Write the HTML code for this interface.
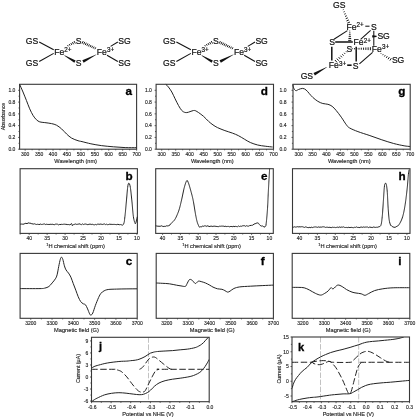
<!DOCTYPE html>
<html><head><meta charset="utf-8"><title>Figure</title>
<style>html,body{margin:0;padding:0;background:#fff;width:416px;height:418px;overflow:hidden}svg{display:block;font-family:"Liberation Sans",Arial,sans-serif}text.p{stroke:#333;stroke-width:0.14px}</style>
</head><body>
<svg width="416" height="418" viewBox="0 0 416 418">
<rect width="416" height="418" fill="#fff"/>
<text x="25.8" y="43.6" font-size="8.6" text-anchor="start" fill="#111" stroke="#111" stroke-width="0.22">GS</text>
<text x="25.8" y="66.1" font-size="8.6" text-anchor="start" fill="#111" stroke="#111" stroke-width="0.22">GS</text>
<text x="54.2" y="54.8" font-size="8.6" text-anchor="start" fill="#111" stroke="#111" stroke-width="0.22">Fe</text>
<text x="64.3" y="52.2" font-size="6.3" fill="#111" stroke="#111" stroke-width="0.2">2+</text>
<text x="75.8" y="43.6" font-size="8.6" text-anchor="start" fill="#111" stroke="#111" stroke-width="0.22">S</text>
<text x="75.8" y="66.1" font-size="8.6" text-anchor="start" fill="#111" stroke="#111" stroke-width="0.22">S</text>
<text x="96.8" y="54.8" font-size="8.6" text-anchor="start" fill="#111" stroke="#111" stroke-width="0.22">Fe</text>
<text x="106.9" y="52.2" font-size="6.3" fill="#111" stroke="#111" stroke-width="0.2">3+</text>
<text x="118.2" y="43.6" font-size="8.6" text-anchor="start" fill="#111" stroke="#111" stroke-width="0.22">SG</text>
<text x="118.2" y="66.1" font-size="8.6" text-anchor="start" fill="#111" stroke="#111" stroke-width="0.22">SG</text>
<line x1="39.2" y1="42" x2="53.7" y2="49.8" stroke="#111" stroke-width="1.05"/>
<line x1="39.2" y1="61.5" x2="53.7" y2="53.4" stroke="#111" stroke-width="1.05"/>
<line x1="110.6" y1="46.4" x2="117.8" y2="42" stroke="#111" stroke-width="1.05"/>
<line x1="107" y1="55.2" x2="117.8" y2="61.5" stroke="#111" stroke-width="1.05"/>
<path d="M68.21,46.33L67.59,45.07M69.99,45.63L69.21,44.07M71.77,44.94L70.83,43.06M73.55,44.25L72.45,42.05M75.33,43.55L74.07,41.05" stroke="#111" stroke-width="0.95"/>
<path d="M82.01,43.67L83.19,41.13M83.62,44.36L84.76,41.91M85.23,45.05L86.32,42.7M86.84,45.75L87.89,43.48M88.44,46.44L89.46,44.26M90.05,47.13L91.02,45.04M91.66,47.82L92.59,45.83M93.27,48.51L94.15,46.61M94.88,49.21L95.72,47.39" stroke="#111" stroke-width="0.95"/>
<path d="M64.4,55.67 L74.35,62.72 L75.65,60.48 L64.6,55.33Z" fill="#111"/>
<path d="M83.66,62.84 L96.29,54.78 L96.11,54.42 L82.34,60.36Z" fill="#111"/>
<text x="163" y="43.6" font-size="8.6" text-anchor="start" fill="#111" stroke="#111" stroke-width="0.22">GS</text>
<text x="163" y="66.1" font-size="8.6" text-anchor="start" fill="#111" stroke="#111" stroke-width="0.22">GS</text>
<text x="191.4" y="54.8" font-size="8.6" text-anchor="start" fill="#111" stroke="#111" stroke-width="0.22">Fe</text>
<text x="201.5" y="52.2" font-size="6.3" fill="#111" stroke="#111" stroke-width="0.2">3+</text>
<text x="213" y="43.6" font-size="8.6" text-anchor="start" fill="#111" stroke="#111" stroke-width="0.22">S</text>
<text x="213" y="66.1" font-size="8.6" text-anchor="start" fill="#111" stroke="#111" stroke-width="0.22">S</text>
<text x="234" y="54.8" font-size="8.6" text-anchor="start" fill="#111" stroke="#111" stroke-width="0.22">Fe</text>
<text x="244.1" y="52.2" font-size="6.3" fill="#111" stroke="#111" stroke-width="0.2">3+</text>
<text x="255.4" y="43.6" font-size="8.6" text-anchor="start" fill="#111" stroke="#111" stroke-width="0.22">SG</text>
<text x="255.4" y="66.1" font-size="8.6" text-anchor="start" fill="#111" stroke="#111" stroke-width="0.22">SG</text>
<line x1="176.4" y1="42" x2="190.9" y2="49.8" stroke="#111" stroke-width="1.05"/>
<line x1="176.4" y1="61.5" x2="190.9" y2="53.4" stroke="#111" stroke-width="1.05"/>
<line x1="247.8" y1="46.4" x2="255" y2="42" stroke="#111" stroke-width="1.05"/>
<line x1="244.2" y1="55.2" x2="255" y2="61.5" stroke="#111" stroke-width="1.05"/>
<path d="M205.41,46.33L204.79,45.07M207.19,45.63L206.41,44.07M208.97,44.94L208.03,43.06M210.75,44.25L209.65,42.05M212.53,43.55L211.27,41.05" stroke="#111" stroke-width="0.95"/>
<path d="M219.21,43.67L220.39,41.13M220.82,44.36L221.96,41.91M222.43,45.05L223.52,42.7M224.04,45.75L225.09,43.48M225.64,46.44L226.66,44.26M227.25,47.13L228.22,45.04M228.86,47.82L229.79,45.83M230.47,48.51L231.35,46.61M232.08,49.21L232.92,47.39" stroke="#111" stroke-width="0.95"/>
<path d="M201.6,55.67 L211.55,62.72 L212.85,60.48 L201.8,55.33Z" fill="#111"/>
<path d="M220.86,62.84 L233.49,54.78 L233.31,54.42 L219.54,60.36Z" fill="#111"/>
<text x="333" y="8.1" font-size="8.6" text-anchor="start" fill="#111" stroke="#111" stroke-width="0.22">GS</text>
<text x="346.5" y="29.6" font-size="8.6" text-anchor="start" fill="#111" stroke="#111" stroke-width="0.22">Fe</text>
<text x="356.6" y="27" font-size="6.3" fill="#111" stroke="#111" stroke-width="0.2">2+</text>
<text x="371" y="29.6" font-size="8.6" text-anchor="start" fill="#111" stroke="#111" stroke-width="0.22">S</text>
<text x="329.2" y="45.4" font-size="8.6" text-anchor="start" fill="#111" stroke="#111" stroke-width="0.22">S</text>
<text x="353.6" y="45.4" font-size="8.6" text-anchor="start" fill="#111" stroke="#111" stroke-width="0.22">Fe</text>
<text x="363.7" y="42.8" font-size="6.3" fill="#111" stroke="#111" stroke-width="0.2">2+</text>
<text x="377.4" y="38.9" font-size="8.6" text-anchor="start" fill="#111" stroke="#111" stroke-width="0.22">SG</text>
<text x="346.4" y="51.9" font-size="8.6" text-anchor="start" fill="#111" stroke="#111" stroke-width="0.22">S</text>
<text x="371.8" y="51.9" font-size="8.6" text-anchor="start" fill="#111" stroke="#111" stroke-width="0.22">Fe</text>
<text x="381.9" y="49.3" font-size="6.3" fill="#111" stroke="#111" stroke-width="0.2">3+</text>
<text x="391.9" y="63.1" font-size="8.6" text-anchor="start" fill="#111" stroke="#111" stroke-width="0.22">SG</text>
<text x="328.8" y="68.1" font-size="8.6" text-anchor="start" fill="#111" stroke="#111" stroke-width="0.22">Fe</text>
<text x="338.9" y="65.5" font-size="6.3" fill="#111" stroke="#111" stroke-width="0.2">3+</text>
<text x="352.8" y="69.3" font-size="8.6" text-anchor="start" fill="#111" stroke="#111" stroke-width="0.22">S</text>
<text x="300.7" y="79.2" font-size="8.6" text-anchor="start" fill="#111" stroke="#111" stroke-width="0.22">GS</text>
<path d="M342.83,9.75L343.57,9.45M343.56,11.99L344.64,11.54M344.29,14.23L345.71,13.64M345.02,16.46L346.78,15.74M345.75,18.7L347.85,17.83M346.48,20.94L348.92,19.93M347.21,23.18L349.99,22.02" stroke="#111" stroke-width="0.95"/>
<line x1="365.3" y1="26.2" x2="369.5" y2="26.2" stroke="#111" stroke-width="1.05"/>
<line x1="347.4" y1="30.6" x2="334" y2="39.2" stroke="#111" stroke-width="1.05"/>
<path d="M349.4,31L350.2,31M349.16,32.88L350.44,32.88M348.92,34.76L350.68,34.76M348.68,36.64L350.92,36.64M348.44,38.52L351.16,38.52M348.2,40.4L351.4,40.4" stroke="#111" stroke-width="0.95"/>
<line x1="370.6" y1="30.3" x2="360.6" y2="39.4" stroke="#111" stroke-width="1.05"/>
<line x1="373.8" y1="30.8" x2="373.8" y2="45.8" stroke="#111" stroke-width="1.05"/>
<path d="M372.2,37.5 L376.6,37 L376.6,35.8 L372.2,35.3Z" fill="#111"/>
<line x1="335.2" y1="42" x2="352.8" y2="42" stroke="#111" stroke-width="1.5"/>
<line x1="331.8" y1="46.8" x2="331.8" y2="60.6" stroke="#111" stroke-width="1.5"/>
<line x1="356.2" y1="46.8" x2="356.2" y2="61.6" stroke="#111" stroke-width="1.5"/>
<path d="M352.2,49.2L352.2,48.2M354.47,49.33L354.47,48.08M356.75,49.45L356.75,47.95M359.02,49.58L359.02,47.83M361.3,49.7L361.3,47.7M363.57,49.83L363.57,47.58M365.85,49.95L365.85,47.45M368.12,50.08L368.12,47.33M370.4,50.2L370.4,47.2" stroke="#111" stroke-width="0.95"/>
<path d="M346,51.35L346.8,52.25M344.15,52.8L345.18,53.94M342.31,54.24L343.56,55.63M340.46,55.68L341.94,57.32M338.62,57.13L340.32,59.01M336.77,58.57L338.69,60.7M334.93,60.01L337.07,62.39" stroke="#111" stroke-width="0.95"/>
<line x1="372.6" y1="52.4" x2="359.4" y2="63.8" stroke="#111" stroke-width="1.05"/>
<path d="M347.2,66 L351.6,66 L351.6,64.4 L347.2,64.4Z" fill="#111"/>
<path d="M380.79,53.84L381.21,53.16M382.61,55.19L383.23,54.17M384.42,56.54L385.26,55.18M386.24,57.89L387.28,56.19M388.05,59.24L389.31,57.2M389.87,60.59L391.33,58.21" stroke="#111" stroke-width="0.95"/>
<path d="M314.93,75.51 L326.9,67.37 L326.7,67.03 L313.47,72.89Z" fill="#111"/>
<rect x="19.6" y="84.3" width="117" height="64.9" fill="none" stroke="#383838" stroke-width="1.1"/>
<path d="M25.17,149.2v1.5M39.1,149.2v1.5M53.03,149.2v1.5M66.96,149.2v1.5M80.89,149.2v1.5M94.81,149.2v1.5M108.74,149.2v1.5M122.67,149.2v1.5M136.6,149.2v1.5M32.14,149.2v1.1M46.06,149.2v1.1M59.99,149.2v1.1M73.92,149.2v1.1M87.85,149.2v1.1M101.78,149.2v1.1M115.71,149.2v1.1M129.64,149.2v1.1" stroke="#383838" stroke-width="0.8" fill="none"/>
<text class="p" x="25.17" y="155.9" font-size="5.0" text-anchor="middle" fill="#111">300</text>
<text class="p" x="39.1" y="155.9" font-size="5.0" text-anchor="middle" fill="#111">350</text>
<text class="p" x="53.03" y="155.9" font-size="5.0" text-anchor="middle" fill="#111">400</text>
<text class="p" x="66.96" y="155.9" font-size="5.0" text-anchor="middle" fill="#111">450</text>
<text class="p" x="80.89" y="155.9" font-size="5.0" text-anchor="middle" fill="#111">500</text>
<text class="p" x="94.81" y="155.9" font-size="5.0" text-anchor="middle" fill="#111">550</text>
<text class="p" x="108.74" y="155.9" font-size="5.0" text-anchor="middle" fill="#111">600</text>
<text class="p" x="122.67" y="155.9" font-size="5.0" text-anchor="middle" fill="#111">650</text>
<text class="p" x="136.6" y="155.9" font-size="5.0" text-anchor="middle" fill="#111">700</text>
<path d="M19.6,149.2h-1.5M19.6,137.42h-1.5M19.6,125.64h-1.5M19.6,113.86h-1.5M19.6,102.08h-1.5M19.6,90.3h-1.5M19.6,143.31h-1.1M19.6,131.53h-1.1M19.6,119.75h-1.1M19.6,107.97h-1.1M19.6,96.19h-1.1" stroke="#383838" stroke-width="0.8" fill="none"/>
<text class="p" x="15.4" y="151" font-size="5.0" text-anchor="end" fill="#111">0.0</text>
<text class="p" x="15.4" y="139.22" font-size="5.0" text-anchor="end" fill="#111">0.2</text>
<text class="p" x="15.4" y="127.44" font-size="5.0" text-anchor="end" fill="#111">0.4</text>
<text class="p" x="15.4" y="115.66" font-size="5.0" text-anchor="end" fill="#111">0.6</text>
<text class="p" x="15.4" y="103.88" font-size="5.0" text-anchor="end" fill="#111">0.8</text>
<text class="p" x="15.4" y="92.1" font-size="5.0" text-anchor="end" fill="#111">1.0</text>
<text x="125.6" y="94.7" font-size="11.7" font-weight="bold" fill="#000" stroke="#000" stroke-width="0.3">a</text>
<text class="p" x="0" y="0" font-size="5.15" text-anchor="middle" fill="#111" transform="translate(4.6,116.5) rotate(-90)">Absorbance</text>
<rect x="156.1" y="84.3" width="117.4" height="64.9" fill="none" stroke="#383838" stroke-width="1.1"/>
<path d="M161.69,149.2v1.5M175.67,149.2v1.5M189.64,149.2v1.5M203.62,149.2v1.5M217.6,149.2v1.5M231.57,149.2v1.5M245.55,149.2v1.5M259.52,149.2v1.5M273.5,149.2v1.5M168.68,149.2v1.1M182.65,149.2v1.1M196.63,149.2v1.1M210.61,149.2v1.1M224.58,149.2v1.1M238.56,149.2v1.1M252.54,149.2v1.1M266.51,149.2v1.1" stroke="#383838" stroke-width="0.8" fill="none"/>
<text class="p" x="161.69" y="155.9" font-size="5.0" text-anchor="middle" fill="#111">300</text>
<text class="p" x="175.67" y="155.9" font-size="5.0" text-anchor="middle" fill="#111">350</text>
<text class="p" x="189.64" y="155.9" font-size="5.0" text-anchor="middle" fill="#111">400</text>
<text class="p" x="203.62" y="155.9" font-size="5.0" text-anchor="middle" fill="#111">450</text>
<text class="p" x="217.6" y="155.9" font-size="5.0" text-anchor="middle" fill="#111">500</text>
<text class="p" x="231.57" y="155.9" font-size="5.0" text-anchor="middle" fill="#111">550</text>
<text class="p" x="245.55" y="155.9" font-size="5.0" text-anchor="middle" fill="#111">600</text>
<text class="p" x="259.52" y="155.9" font-size="5.0" text-anchor="middle" fill="#111">650</text>
<text class="p" x="273.5" y="155.9" font-size="5.0" text-anchor="middle" fill="#111">700</text>
<path d="M156.1,149.2h-1.5M156.1,137.42h-1.5M156.1,125.64h-1.5M156.1,113.86h-1.5M156.1,102.08h-1.5M156.1,90.3h-1.5M156.1,143.31h-1.1M156.1,131.53h-1.1M156.1,119.75h-1.1M156.1,107.97h-1.1M156.1,96.19h-1.1" stroke="#383838" stroke-width="0.8" fill="none"/>
<text class="p" x="151.9" y="151" font-size="5.0" text-anchor="end" fill="#111">0.0</text>
<text class="p" x="151.9" y="139.22" font-size="5.0" text-anchor="end" fill="#111">0.2</text>
<text class="p" x="151.9" y="127.44" font-size="5.0" text-anchor="end" fill="#111">0.4</text>
<text class="p" x="151.9" y="115.66" font-size="5.0" text-anchor="end" fill="#111">0.6</text>
<text class="p" x="151.9" y="103.88" font-size="5.0" text-anchor="end" fill="#111">0.8</text>
<text class="p" x="151.9" y="92.1" font-size="5.0" text-anchor="end" fill="#111">1.0</text>
<text x="260.8" y="94.7" font-size="11.7" font-weight="bold" fill="#000" stroke="#000" stroke-width="0.3">d</text>
<rect x="293" y="84.3" width="117.2" height="64.9" fill="none" stroke="#383838" stroke-width="1.1"/>
<path d="M298.58,149.2v1.5M312.53,149.2v1.5M326.49,149.2v1.5M340.44,149.2v1.5M354.39,149.2v1.5M368.34,149.2v1.5M382.3,149.2v1.5M396.25,149.2v1.5M410.2,149.2v1.5M305.56,149.2v1.1M319.51,149.2v1.1M333.46,149.2v1.1M347.41,149.2v1.1M361.37,149.2v1.1M375.32,149.2v1.1M389.27,149.2v1.1M403.22,149.2v1.1" stroke="#383838" stroke-width="0.8" fill="none"/>
<text class="p" x="298.58" y="155.9" font-size="5.0" text-anchor="middle" fill="#111">300</text>
<text class="p" x="312.53" y="155.9" font-size="5.0" text-anchor="middle" fill="#111">350</text>
<text class="p" x="326.49" y="155.9" font-size="5.0" text-anchor="middle" fill="#111">400</text>
<text class="p" x="340.44" y="155.9" font-size="5.0" text-anchor="middle" fill="#111">450</text>
<text class="p" x="354.39" y="155.9" font-size="5.0" text-anchor="middle" fill="#111">500</text>
<text class="p" x="368.34" y="155.9" font-size="5.0" text-anchor="middle" fill="#111">550</text>
<text class="p" x="382.3" y="155.9" font-size="5.0" text-anchor="middle" fill="#111">600</text>
<text class="p" x="396.25" y="155.9" font-size="5.0" text-anchor="middle" fill="#111">650</text>
<text class="p" x="410.2" y="155.9" font-size="5.0" text-anchor="middle" fill="#111">700</text>
<path d="M293,149.2h-1.5M293,137.42h-1.5M293,125.64h-1.5M293,113.86h-1.5M293,102.08h-1.5M293,90.3h-1.5M293,143.31h-1.1M293,131.53h-1.1M293,119.75h-1.1M293,107.97h-1.1M293,96.19h-1.1" stroke="#383838" stroke-width="0.8" fill="none"/>
<text class="p" x="286.5" y="151" font-size="5.0" text-anchor="end" fill="#111">0.0</text>
<text class="p" x="286.5" y="139.22" font-size="5.0" text-anchor="end" fill="#111">0.2</text>
<text class="p" x="286.5" y="127.44" font-size="5.0" text-anchor="end" fill="#111">0.4</text>
<text class="p" x="286.5" y="115.66" font-size="5.0" text-anchor="end" fill="#111">0.6</text>
<text class="p" x="286.5" y="103.88" font-size="5.0" text-anchor="end" fill="#111">0.8</text>
<text class="p" x="286.5" y="92.1" font-size="5.0" text-anchor="end" fill="#111">1.0</text>
<text x="398.3" y="94.7" font-size="11.7" font-weight="bold" fill="#000" stroke="#000" stroke-width="0.3">g</text>
<text class="p" x="75.65" y="163" font-size="5.65" text-anchor="middle" fill="#111">Wavelength (nm)</text>
<text class="p" x="212.25" y="163" font-size="5.65" text-anchor="middle" fill="#111">Wavelength (nm)</text>
<text class="p" x="349.25" y="163" font-size="5.65" text-anchor="middle" fill="#111">Wavelength (nm)</text>
<path d="M19.7,84.5 C20.25,85.75 21.88,89.35 23,92 C24.12,94.65 25.28,97.6 26.4,100.4 C27.52,103.2 28.58,106.28 29.7,108.8 C30.82,111.32 31.98,113.68 33.1,115.5 C34.22,117.32 35.28,118.63 36.4,119.7 C37.52,120.77 38.4,121.42 39.8,121.9 C41.2,122.38 42.85,122.32 44.8,122.6 C46.75,122.88 49.55,123.17 51.5,123.6 C53.45,124.03 54.82,124.32 56.5,125.2 C58.18,126.08 59.92,127.43 61.6,128.9 C63.28,130.37 64.93,132.47 66.6,134 C68.27,135.53 69.7,136.98 71.6,138.1 C73.5,139.22 76.27,140.12 78,140.7 C79.73,141.28 79.85,141.08 82,141.6 C84.15,142.12 87.68,143.13 90.9,143.8 C94.12,144.47 97.57,145.1 101.3,145.6 C105.03,146.1 109.32,146.47 113.3,146.8 C117.28,147.13 121.35,147.45 125.2,147.6 C129.05,147.75 134.53,147.68 136.4,147.7" stroke="#222" stroke-width="1.0" fill="none" stroke-linejoin="round"/>
<path d="M165.9,84.3 C166.32,84.75 167.42,85.72 168.4,87 C169.38,88.28 170.68,90.03 171.8,92 C172.92,93.97 173.98,96.55 175.1,98.8 C176.22,101.05 177.38,103.55 178.5,105.5 C179.62,107.45 180.68,109.33 181.8,110.5 C182.92,111.67 184.08,112.22 185.2,112.5 C186.32,112.78 187.12,112.53 188.5,112.2 C189.88,111.87 192.1,110.62 193.5,110.5 C194.9,110.38 195.22,110.52 196.9,111.5 C198.58,112.48 201.65,114.75 203.6,116.4 C205.55,118.05 207.03,119.98 208.6,121.4 C210.17,122.82 211.52,123.87 213,124.9 C214.48,125.93 215.52,126.65 217.5,127.6 C219.48,128.55 222.42,129.68 224.9,130.6 C227.38,131.52 230.17,132.27 232.4,133.1 C234.63,133.93 236.32,134.6 238.3,135.6 C240.28,136.6 242.3,137.95 244.3,139.1 C246.3,140.25 248.07,141.52 250.3,142.5 C252.53,143.48 255.22,144.38 257.7,145 C260.18,145.62 262.72,145.87 265.2,146.2 C267.68,146.53 271.37,146.87 272.6,147" stroke="#222" stroke-width="1.0" fill="none" stroke-linejoin="round"/>
<path d="M292.7,84.5 C292.92,85.2 293.45,87.67 294,88.7 C294.55,89.73 295.25,90.57 296,90.7 C296.75,90.83 297.38,89.88 298.5,89.5 C299.62,89.12 301.43,88.32 302.7,88.4 C303.97,88.48 304.98,89.12 306.1,90 C307.22,90.88 308.28,92.47 309.4,93.7 C310.52,94.93 311.4,96.13 312.8,97.4 C314.2,98.67 316.13,100.28 317.8,101.3 C319.47,102.32 321.12,103 322.8,103.5 C324.48,104 326.35,103.83 327.9,104.3 C329.45,104.77 330.72,105.27 332.1,106.3 C333.48,107.33 334.67,108.68 336.2,110.5 C337.73,112.32 339.62,114.83 341.3,117.2 C342.98,119.57 344.93,122.92 346.3,124.7 C347.67,126.48 347.57,126.75 349.5,127.9 C351.43,129.05 354.5,130.32 357.9,131.6 C361.3,132.88 365.92,134.23 369.9,135.6 C373.88,136.97 377.83,138.48 381.8,139.8 C385.77,141.12 389.98,142.5 393.7,143.5 C397.42,144.5 401.37,145.3 404.1,145.8 C406.83,146.3 409.1,146.38 410.1,146.5" stroke="#222" stroke-width="1.0" fill="none" stroke-linejoin="round"/>
<rect x="20.1" y="168.7" width="117.3" height="64.7" fill="none" stroke="#383838" stroke-width="1.1"/>
<path d="M29.2,233.4v1.5M47.15,233.4v1.5M65.1,233.4v1.5M83.05,233.4v1.5M101,233.4v1.5M118.95,233.4v1.5M136.9,233.4v1.5M20.23,233.4v1.1M38.17,233.4v1.1M56.12,233.4v1.1M74.08,233.4v1.1M92.02,233.4v1.1M109.97,233.4v1.1M127.92,233.4v1.1" stroke="#383838" stroke-width="0.8" fill="none"/>
<text class="p" x="29.2" y="240.3" font-size="5.0" text-anchor="middle" fill="#111">40</text>
<text class="p" x="47.15" y="240.3" font-size="5.0" text-anchor="middle" fill="#111">35</text>
<text class="p" x="65.1" y="240.3" font-size="5.0" text-anchor="middle" fill="#111">30</text>
<text class="p" x="83.05" y="240.3" font-size="5.0" text-anchor="middle" fill="#111">25</text>
<text class="p" x="101" y="240.3" font-size="5.0" text-anchor="middle" fill="#111">20</text>
<text class="p" x="118.95" y="240.3" font-size="5.0" text-anchor="middle" fill="#111">15</text>
<text class="p" x="136.9" y="240.3" font-size="5.0" text-anchor="middle" fill="#111">10</text>
<text x="125.6" y="180.1" font-size="11.7" font-weight="bold" fill="#000" stroke="#000" stroke-width="0.3">b</text>
<text class="p" x="75.55" y="247.6" font-size="5.7" text-anchor="middle" fill="#111"><tspan font-size="4" dy="-1.5">1</tspan><tspan dy="1.5">H chemical shift (ppm)</tspan></text>
<rect x="155.7" y="168.7" width="117.6" height="64.7" fill="none" stroke="#383838" stroke-width="1.1"/>
<path d="M162.6,233.4v1.5M180.4,233.4v1.5M198.2,233.4v1.5M216,233.4v1.5M233.8,233.4v1.5M251.6,233.4v1.5M269.4,233.4v1.5M171.5,233.4v1.1M189.3,233.4v1.1M207.1,233.4v1.1M224.9,233.4v1.1M242.7,233.4v1.1M260.5,233.4v1.1" stroke="#383838" stroke-width="0.8" fill="none"/>
<text class="p" x="162.6" y="240.3" font-size="5.0" text-anchor="middle" fill="#111">40</text>
<text class="p" x="180.4" y="240.3" font-size="5.0" text-anchor="middle" fill="#111">35</text>
<text class="p" x="198.2" y="240.3" font-size="5.0" text-anchor="middle" fill="#111">30</text>
<text class="p" x="216" y="240.3" font-size="5.0" text-anchor="middle" fill="#111">25</text>
<text class="p" x="233.8" y="240.3" font-size="5.0" text-anchor="middle" fill="#111">20</text>
<text class="p" x="251.6" y="240.3" font-size="5.0" text-anchor="middle" fill="#111">15</text>
<text class="p" x="269.4" y="240.3" font-size="5.0" text-anchor="middle" fill="#111">10</text>
<text x="260.9" y="180.1" font-size="11.7" font-weight="bold" fill="#000" stroke="#000" stroke-width="0.3">e</text>
<text class="p" x="211.55" y="247.6" font-size="5.7" text-anchor="middle" fill="#111"><tspan font-size="4" dy="-1.5">1</tspan><tspan dy="1.5">H chemical shift (ppm)</tspan></text>
<rect x="292.5" y="168.7" width="117.5" height="64.7" fill="none" stroke="#383838" stroke-width="1.1"/>
<path d="M299.5,233.4v1.5M317.4,233.4v1.5M335.3,233.4v1.5M353.2,233.4v1.5M371.1,233.4v1.5M389,233.4v1.5M406.9,233.4v1.5M308.45,233.4v1.1M326.35,233.4v1.1M344.25,233.4v1.1M362.15,233.4v1.1M380.05,233.4v1.1M397.95,233.4v1.1" stroke="#383838" stroke-width="0.8" fill="none"/>
<text class="p" x="299.5" y="240.3" font-size="5.0" text-anchor="middle" fill="#111">40</text>
<text class="p" x="317.4" y="240.3" font-size="5.0" text-anchor="middle" fill="#111">35</text>
<text class="p" x="335.3" y="240.3" font-size="5.0" text-anchor="middle" fill="#111">30</text>
<text class="p" x="353.2" y="240.3" font-size="5.0" text-anchor="middle" fill="#111">25</text>
<text class="p" x="371.1" y="240.3" font-size="5.0" text-anchor="middle" fill="#111">20</text>
<text class="p" x="389" y="240.3" font-size="5.0" text-anchor="middle" fill="#111">15</text>
<text class="p" x="406.9" y="240.3" font-size="5.0" text-anchor="middle" fill="#111">10</text>
<text x="398.5" y="180.1" font-size="11.7" font-weight="bold" fill="#000" stroke="#000" stroke-width="0.3">h</text>
<text class="p" x="347.55" y="247.6" font-size="5.7" text-anchor="middle" fill="#111"><tspan font-size="4" dy="-1.5">1</tspan><tspan dy="1.5">H chemical shift (ppm)</tspan></text>
<path d="M20.1,223.99 L20.75,224.22 L21.68,224.06 L22.79,224.19 L24,224.1 L24.9,223.51 L25.92,223.27 L27,223.7 L28.07,223.03 L29.06,222.85 L29.9,223.4 L31,223.15 L31.78,223.84 L33,223.88 L33.77,224.1 L34.63,223.79 L35.57,224.24 L36.59,224.48 L37.67,224.26 L38.81,224.47 L40,224.44 L40.8,223.96 L41.64,224.51 L42.51,224.37 L43.42,224.12 L44.34,223.89 L45.29,224.54 L46.24,224.21 L47.19,224.39 L48.14,224.5 L49.08,224.37 L50,224.54 L50.92,224.13 L51.87,224.48 L52.84,224.22 L53.8,224.65 L54.77,224.65 L55.73,224.06 L56.66,224.13 L57.56,224.22 L58.43,224.85 L59.24,224.44 L60,224.6 L61.25,224.32 L62.37,224.43 L63.38,224.26 L64.3,224.17 L65.16,224.3 L66,224.27 L67.2,224.57 L68.28,224.49 L69.22,224.77 L70,224.69 L70.95,224.18 L71.5,223.54 L71.92,224.14 L72.3,225.69 L72.54,225.35 L73.5,224.62 L74.12,224.29 L74.87,224.36 L75.73,223.94 L76.69,224.43 L77.73,224.24 L78.84,224.02 L80,223.85 L80.78,224.49 L81.61,224.61 L82.47,223.91 L83.38,224.5 L84.31,224.21 L85.26,224.03 L86.22,224.16 L87.18,224.57 L88.13,224.67 L89.08,224.02 L90,224.49 L90.91,224.04 L91.82,224.59 L92.73,224.28 L93.64,224.72 L94.55,224.8 L95.45,224.42 L96.36,224.81 L97.27,224.26 L98.18,224.07 L99.09,224.48 L100,224.03 L100.92,224.15 L101.85,224.31 L102.78,224.46 L103.72,224.09 L104.66,223.98 L105.59,224.63 L106.51,224.18 L107.42,224.68 L108.3,224.62 L109.17,224.2 L110,224.27 L111.11,224.32 L112.2,224.43 L113.27,224.4 L114.29,224.39 L115.29,224.46 L116.24,224.73 L117.14,224.4 L118,224.34 L119.29,224.71 L120.49,224.57 L121.58,224.8 L122.52,225.28 L123.3,224.42 L123.68,223.9 L123.96,222.81 L124.18,222.36 L124.34,221.53 L124.47,220.5 L124.59,219.36 L124.73,218.09 L124.9,216.7 L124.99,215.99 L125.08,215.22 L125.17,214.4 L125.26,213.54 L125.35,212.64 L125.44,211.71 L125.53,210.76 L125.62,209.79 L125.71,208.8 L125.8,207.8 L125.89,206.81 L125.98,205.81 L126.06,204.83 L126.15,203.86 L126.23,202.91 L126.32,201.99 L126.4,201.1 L126.49,200.1 L126.58,199.08 L126.68,198.04 L126.77,196.99 L126.86,195.94 L126.94,194.9 L127.03,193.87 L127.12,192.87 L127.2,191.9 L127.29,190.96 L127.37,190.07 L127.46,189.23 L127.54,188.45 L127.62,187.74 L127.7,187.1 L127.98,185.23 L128.24,184.03 L128.5,183.39 L128.8,183.2 L129.14,183.39 L129.52,184.03 L129.91,185.23 L130.3,187.1 L130.4,187.74 L130.51,188.45 L130.62,189.23 L130.72,190.07 L130.83,190.96 L130.94,191.9 L131.05,192.87 L131.15,193.87 L131.26,194.9 L131.37,195.94 L131.48,196.99 L131.58,198.04 L131.69,199.08 L131.8,200.1 L131.9,201.1 L131.99,201.99 L132.08,202.91 L132.17,203.87 L132.25,204.84 L132.34,205.83 L132.42,206.83 L132.5,207.84 L132.59,208.84 L132.67,209.83 L132.76,210.81 L132.85,211.77 L132.93,212.69 L133.02,213.59 L133.11,214.44 L133.21,215.25 L133.3,216 L133.4,216.7 L133.62,218.05 L133.87,219.28 L134.12,220.38 L134.38,221.34 L134.64,222.23 L134.88,222.45 L135.1,223.44 L135.3,223.81 L135.7,223.23 L136,222.48 L136.3,221 L136.57,219.94 L136.86,218.68 L137.12,217.51 L137.3,216.7" stroke="#222" stroke-width="1.0" fill="none" stroke-linejoin="round"/>
<path d="M155.7,225.8 L156.28,225.94 L157.07,226.05 L158.01,226.25 L159.04,226.17 L160.12,226.4 L161.2,225.76 L162.21,226.15 L163.1,226.55 L164.19,226.32 L165.24,226.5 L166.26,225.82 L167.2,226.02 L168.05,225.7 L168.8,225.74 L169.84,225.13 L170.53,223.85 L171.3,223.3 L171.91,222.72 L172.56,222.12 L173.24,221.47 L173.89,220.77 L174.5,220 L174.96,219.31 L175.39,218.57 L175.8,217.8 L176.2,216.98 L176.6,216.12 L177,215.2 L177.35,214.39 L177.69,213.56 L178.04,212.71 L178.38,211.81 L178.72,210.85 L179.06,209.82 L179.4,208.7 L179.62,207.94 L179.84,207.14 L180.05,206.31 L180.27,205.45 L180.49,204.56 L180.7,203.65 L180.92,202.72 L181.14,201.78 L181.36,200.82 L181.58,199.86 L181.8,198.9 L182.01,197.99 L182.21,197.04 L182.42,196.05 L182.63,195.05 L182.84,194.03 L183.05,193.01 L183.26,192 L183.47,191.02 L183.68,190.06 L183.89,189.15 L184.09,188.29 L184.3,187.5 L184.61,186.37 L184.93,185.27 L185.24,184.23 L185.56,183.27 L185.86,182.41 L186.16,181.68 L186.44,181.1 L186.7,180.7 L187.49,180.71 L188.3,182.6 L188.54,183.23 L188.8,183.97 L189.07,184.81 L189.35,185.73 L189.65,186.71 L189.94,187.72 L190.23,188.76 L190.52,189.79 L190.8,190.8 L191.02,191.61 L191.24,192.4 L191.46,193.2 L191.68,194.01 L191.89,194.83 L192.11,195.67 L192.32,196.54 L192.54,197.45 L192.76,198.41 L192.98,199.42 L193.2,200.5 L193.35,201.29 L193.51,202.14 L193.67,203.04 L193.83,203.98 L193.99,204.95 L194.16,205.94 L194.32,206.94 L194.48,207.95 L194.64,208.96 L194.8,209.95 L194.96,210.93 L195.11,211.87 L195.27,212.78 L195.42,213.64 L195.56,214.45 L195.7,215.2 L195.94,216.41 L196.16,217.53 L196.37,218.56 L196.57,219.5 L196.77,220.37 L196.97,221.18 L197.18,221.93 L197.38,222.63 L197.6,223.3 L198.06,224.39 L198.51,225.47 L199.03,226.74 L199.7,227.11 L200.42,226.74 L201.18,227.01 L202.23,226.14 L203.8,226.29 L204.49,225.88 L205.27,225.76 L206.13,226.44 L207.05,225.9 L208.02,225.91 L209.03,226.52 L210.06,226.44 L211.09,225.98 L212.12,226.53 L213.12,226.21 L214.09,226.33 L215,225.96 L215.95,226.57 L216.89,226.39 L217.81,226.64 L218.72,226.61 L219.63,226.17 L220.52,226.26 L221.41,226.13 L222.31,226.15 L223.2,226.11 L224.1,226.32 L225,226.58 L225.89,226.12 L226.76,226.67 L227.6,226.41 L228.44,226.4 L229.29,226.82 L230.14,226.56 L231.02,226.42 L231.94,226.55 L232.9,226.72 L233.92,226.18 L235,226.88 L235.81,226.09 L236.68,226.64 L237.61,226.68 L238.59,225.97 L239.6,226.54 L240.63,226.15 L241.68,226.27 L242.72,225.76 L243.75,225.73 L244.75,225.78 L245.72,226.34 L246.64,225.68 L247.5,226.07 L248.28,226.15 L248.99,226.11 L249.6,225.58 L251.54,225.35 L252.23,225.25 L252.9,225.12 L254.02,224.06 L255.13,223.77 L256.1,223.3 L257.17,222.91 L258.1,223 L258.78,223.59 L259.47,224.66 L260.2,225.44 L261.38,226.08 L262.6,225.83 L263.93,227.19 L265.1,226.57 L265.47,226.43 L265.73,226.14 L265.94,225.41 L266.2,223.3 L266.28,222.69 L266.36,222.01 L266.44,221.27 L266.52,220.46 L266.61,219.61 L266.69,218.71 L266.78,217.77 L266.87,216.79 L266.96,215.8 L267.04,214.78 L267.12,213.76 L267.21,212.73 L267.28,211.7 L267.36,210.68 L267.43,209.68 L267.5,208.7 L267.56,207.83 L267.61,206.95 L267.66,206.06 L267.71,205.16 L267.76,204.25 L267.8,203.33 L267.85,202.41 L267.89,201.48 L267.93,200.55 L267.97,199.62 L268.01,198.69 L268.05,197.77 L268.09,196.85 L268.13,195.94 L268.17,195.04 L268.21,194.15 L268.26,193.27 L268.3,192.4 L268.35,191.43 L268.4,190.46 L268.45,189.48 L268.51,188.5 L268.56,187.53 L268.61,186.56 L268.67,185.6 L268.72,184.65 L268.77,183.72 L268.82,182.8 L268.87,181.9 L268.92,181.02 L268.97,180.17 L269.01,179.35 L269.06,178.56 L269.1,177.8 L269.16,176.63 L269.23,175.48 L269.29,174.38 L269.35,173.33 L269.4,172.34 L269.45,171.42 L269.5,170.59 L269.54,169.85 L269.57,169.22 L269.6,168.7" stroke="#222" stroke-width="1.0" fill="none" stroke-linejoin="round"/>
<path d="M292.5,227.06 L293.06,226.9 L293.79,227.27 L294.65,226.77 L295.62,227.1 L296.67,226.93 L297.77,226.66 L298.89,227 L300,226.63 L300.82,226.96 L301.67,226.7 L302.55,226.76 L303.45,227.07 L304.38,227.44 L305.31,226.93 L306.26,227.06 L307.21,227.43 L308.15,227.72 L309.08,227.45 L310,227.32 L310.91,227.78 L311.82,227.02 L312.73,227.64 L313.64,227.15 L314.55,226.99 L315.45,226.93 L316.36,227.04 L317.27,227.41 L318.18,226.87 L319.09,227.17 L320,227.21 L320.91,227 L321.82,227.16 L322.73,226.8 L323.64,226.83 L324.55,226.99 L325.45,227.41 L326.36,227.24 L327.27,227.19 L328.18,227.44 L329.09,227.35 L330,227.24 L330.91,227.63 L331.82,227.55 L332.73,227.17 L333.64,227.41 L334.55,227.34 L335.45,227.59 L336.36,227.45 L337.27,227.07 L338.18,227.6 L339.09,226.9 L340,227.13 L340.91,227.41 L341.82,226.94 L342.73,227.23 L343.64,226.89 L344.55,227.42 L345.45,227.53 L346.36,227.4 L347.27,227.66 L348.18,227.23 L349.09,227.55 L350,227.48 L350.91,227.46 L351.82,227.35 L352.73,227.64 L353.64,227.7 L354.55,227.29 L355.45,227.42 L356.36,226.91 L357.27,227.4 L358.18,227.34 L359.09,227.6 L360,227.46 L360.92,227.03 L361.87,227.13 L362.82,227.38 L363.78,226.89 L364.74,227.27 L365.69,227.06 L366.62,227.05 L367.53,227.03 L368.39,227.61 L369.22,227.11 L370,227.2 L371.13,227.29 L372.18,227.65 L373.16,226.98 L374.07,227.22 L374.92,227.23 L375.73,227.41 L376.5,227.26 L377.75,227.23 L378.86,226.75 L379.81,226.59 L380.6,225.69 L380.86,225.56 L381.09,224.63 L381.28,223.93 L381.44,223.15 L381.58,222.29 L381.71,221.36 L381.83,220.36 L381.95,219.28 L382.07,218.12 L382.2,216.9 L382.28,216.17 L382.35,215.4 L382.43,214.57 L382.5,213.71 L382.57,212.82 L382.64,211.9 L382.71,210.95 L382.78,209.99 L382.84,209.01 L382.91,208.03 L382.97,207.05 L383.04,206.07 L383.1,205.1 L383.16,204.15 L383.22,203.22 L383.28,202.31 L383.34,201.44 L383.4,200.6 L383.47,199.54 L383.55,198.48 L383.61,197.42 L383.68,196.36 L383.75,195.31 L383.81,194.28 L383.87,193.28 L383.94,192.31 L384,191.38 L384.06,190.49 L384.12,189.65 L384.18,188.87 L384.24,188.15 L384.3,187.5 L384.5,185.75 L384.68,184.63 L384.87,183.95 L385.1,183.5 L385.69,183.14 L386.3,184.3 L386.42,184.83 L386.54,185.45 L386.65,186.16 L386.76,186.95 L386.87,187.84 L386.98,188.82 L387.09,189.91 L387.19,191.1 L387.3,192.4 L387.35,193.11 L387.4,193.87 L387.45,194.68 L387.5,195.53 L387.55,196.43 L387.59,197.35 L387.64,198.3 L387.68,199.26 L387.73,200.24 L387.78,201.23 L387.83,202.22 L387.87,203.21 L387.92,204.18 L387.98,205.14 L388.03,206.08 L388.08,206.99 L388.14,207.86 L388.2,208.7 L388.28,209.75 L388.35,210.8 L388.43,211.85 L388.51,212.89 L388.59,213.92 L388.67,214.93 L388.75,215.91 L388.84,216.87 L388.93,217.79 L389.03,218.67 L389.13,219.51 L389.25,220.3 L389.37,221.03 L389.5,221.7 L389.83,223.04 L390.19,224.1 L390.57,225.3 L391,225.32 L391.48,225.88 L392,226.39 L392.93,226.88 L394.01,227.27 L395.1,227.3 L396.1,226.81 L396.96,226.23 L397.75,226.02 L398.51,225.19 L399.3,224.2 L399.71,223.53 L400.14,222.79 L400.57,221.97 L401,221.09 L401.42,220.14 L401.84,219.12 L402.23,218.04 L402.6,216.9 L402.83,216.11 L403.06,215.29 L403.27,214.45 L403.48,213.59 L403.68,212.69 L403.88,211.76 L404.07,210.8 L404.26,209.81 L404.44,208.79 L404.63,207.73 L404.81,206.63 L405,205.5 L405.13,204.71 L405.25,203.9 L405.38,203.05 L405.5,202.18 L405.63,201.28 L405.75,200.37 L405.88,199.44 L406,198.5 L406.12,197.56 L406.24,196.6 L406.36,195.65 L406.47,194.7 L406.58,193.75 L406.69,192.81 L406.8,191.88 L406.9,190.97 L407,190.07 L407.1,189.2 L407.2,188.22 L407.3,187.22 L407.4,186.2 L407.5,185.18 L407.59,184.16 L407.67,183.14 L407.76,182.13 L407.84,181.14 L407.92,180.17 L407.99,179.22 L408.06,178.32 L408.14,177.45 L408.2,176.63 L408.27,175.86 L408.34,175.15 L408.4,174.5 L408.59,172.81 L408.76,171.6 L408.9,170.74 L409.01,170.11 L409.1,169.6" stroke="#222" stroke-width="1.0" fill="none" stroke-linejoin="round"/>
<rect x="20.1" y="253.4" width="117.1" height="64.9" fill="none" stroke="#383838" stroke-width="1.1"/>
<path d="M30.75,318.3v1.5M52.04,318.3v1.5M73.33,318.3v1.5M94.62,318.3v1.5M115.91,318.3v1.5M137.2,318.3v1.5M41.39,318.3v1.1M62.68,318.3v1.1M83.97,318.3v1.1M105.26,318.3v1.1M126.55,318.3v1.1" stroke="#383838" stroke-width="0.8" fill="none"/>
<text class="p" x="30.75" y="325" font-size="5.0" text-anchor="middle" fill="#111">3200</text>
<text class="p" x="52.04" y="325" font-size="5.0" text-anchor="middle" fill="#111">3300</text>
<text class="p" x="73.33" y="325" font-size="5.0" text-anchor="middle" fill="#111">3400</text>
<text class="p" x="94.62" y="325" font-size="5.0" text-anchor="middle" fill="#111">3500</text>
<text class="p" x="115.91" y="325" font-size="5.0" text-anchor="middle" fill="#111">3600</text>
<text class="p" x="137.2" y="325" font-size="5.0" text-anchor="middle" fill="#111">3700</text>
<text x="125.7" y="265.3" font-size="11.7" font-weight="bold" fill="#000" stroke="#000" stroke-width="0.3">c</text>
<text class="p" x="76.5" y="331.6" font-size="5.7" text-anchor="middle" fill="#111">Magnetic field (G)</text>
<rect x="156.2" y="253.4" width="117.2" height="64.9" fill="none" stroke="#383838" stroke-width="1.1"/>
<path d="M166.85,318.3v1.5M188.16,318.3v1.5M209.47,318.3v1.5M230.78,318.3v1.5M252.09,318.3v1.5M273.4,318.3v1.5M177.51,318.3v1.1M198.82,318.3v1.1M220.13,318.3v1.1M241.44,318.3v1.1M262.75,318.3v1.1" stroke="#383838" stroke-width="0.8" fill="none"/>
<text class="p" x="166.85" y="325" font-size="5.0" text-anchor="middle" fill="#111">3200</text>
<text class="p" x="188.16" y="325" font-size="5.0" text-anchor="middle" fill="#111">3300</text>
<text class="p" x="209.47" y="325" font-size="5.0" text-anchor="middle" fill="#111">3400</text>
<text class="p" x="230.78" y="325" font-size="5.0" text-anchor="middle" fill="#111">3500</text>
<text class="p" x="252.09" y="325" font-size="5.0" text-anchor="middle" fill="#111">3600</text>
<text class="p" x="273.4" y="325" font-size="5.0" text-anchor="middle" fill="#111">3700</text>
<text x="260.8" y="265.3" font-size="11.7" font-weight="bold" fill="#000" stroke="#000" stroke-width="0.3">f</text>
<text class="p" x="212.25" y="331.6" font-size="5.7" text-anchor="middle" fill="#111">Magnetic field (G)</text>
<rect x="292.2" y="253.4" width="117.6" height="64.9" fill="none" stroke="#383838" stroke-width="1.1"/>
<path d="M302.89,318.3v1.5M324.27,318.3v1.5M345.65,318.3v1.5M367.04,318.3v1.5M388.42,318.3v1.5M409.8,318.3v1.5M313.58,318.3v1.1M334.96,318.3v1.1M356.35,318.3v1.1M377.73,318.3v1.1M399.11,318.3v1.1" stroke="#383838" stroke-width="0.8" fill="none"/>
<text class="p" x="302.89" y="325" font-size="5.0" text-anchor="middle" fill="#111">3200</text>
<text class="p" x="324.27" y="325" font-size="5.0" text-anchor="middle" fill="#111">3300</text>
<text class="p" x="345.65" y="325" font-size="5.0" text-anchor="middle" fill="#111">3400</text>
<text class="p" x="367.04" y="325" font-size="5.0" text-anchor="middle" fill="#111">3500</text>
<text class="p" x="388.42" y="325" font-size="5.0" text-anchor="middle" fill="#111">3600</text>
<text class="p" x="409.8" y="325" font-size="5.0" text-anchor="middle" fill="#111">3700</text>
<text x="398.3" y="265.3" font-size="11.7" font-weight="bold" fill="#000" stroke="#000" stroke-width="0.3">i</text>
<text class="p" x="348.25" y="331.6" font-size="5.7" text-anchor="middle" fill="#111">Magnetic field (G)</text>
<path d="M20.1,288.6 C23.42,288.6 35.87,288.68 40,288.6 C44.13,288.52 43.42,288.45 44.9,288.1 C46.38,287.75 47.68,287.37 48.9,286.5 C50.12,285.63 51.12,284.18 52.2,282.9 C53.28,281.62 54.58,280.15 55.4,278.8 C56.22,277.45 56.55,276.83 57.1,274.8 C57.65,272.77 58.17,269.18 58.7,266.6 C59.23,264.02 59.83,260.87 60.3,259.3 C60.77,257.73 61.08,257.2 61.5,257.2 C61.92,257.2 62.32,257.87 62.8,259.3 C63.28,260.73 63.87,264.03 64.4,265.8 C64.93,267.57 65.32,268.68 66,269.9 C66.68,271.12 67.68,271.88 68.5,273.1 C69.32,274.32 70.1,275.43 70.9,277.2 C71.7,278.97 72.48,281.53 73.3,283.7 C74.12,285.87 74.98,288.03 75.8,290.2 C76.62,292.37 77.38,294.8 78.2,296.7 C79.02,298.6 79.88,300.43 80.7,301.6 C81.52,302.77 82.3,303.17 83.1,303.7 C83.9,304.23 84.75,303.93 85.5,304.8 C86.25,305.67 86.92,307.4 87.6,308.9 C88.28,310.4 89.05,312.77 89.6,313.8 C90.15,314.83 90.37,315.23 90.9,315.1 C91.43,314.97 92.07,314.57 92.8,313 C93.53,311.43 94.33,308.28 95.3,305.7 C96.27,303.12 97.65,299.57 98.6,297.5 C99.55,295.43 100.1,294.4 101,293.3 C101.9,292.2 102.8,291.53 104,290.9 C105.2,290.27 106.12,289.8 108.2,289.5 C110.28,289.2 113.52,289.2 116.5,289.1 C119.48,289 122.68,288.95 126.1,288.9 C129.52,288.85 135.18,288.82 137,288.8" stroke="#222" stroke-width="1.0" fill="none" stroke-linejoin="round"/>
<path d="M156.2,283 C157.2,283.05 160,283.17 162.2,283.3 C164.4,283.43 167,283.48 169.4,283.8 C171.8,284.12 174.67,284.85 176.6,285.2 C178.53,285.55 179.55,285.7 181,285.9 C182.45,286.1 184.3,286.75 185.3,286.4 C186.3,286.05 186.4,284.83 187,283.8 C187.6,282.77 188.33,280.93 188.9,280.2 C189.47,279.47 189.8,279.33 190.4,279.4 C191,279.47 191.67,279.92 192.5,280.6 C193.33,281.28 194.43,283.4 195.4,283.5 C196.37,283.6 197.33,281.52 198.3,281.2 C199.27,280.88 200,281.3 201.2,281.6 C202.4,281.9 204.07,282.4 205.5,283 C206.93,283.6 208.55,284.52 209.8,285.2 C211.05,285.88 211.72,286.5 213,287.1 C214.28,287.7 216.02,288.43 217.5,288.8 C218.98,289.17 220.67,289 221.9,289.3 C223.13,289.6 223.95,290.13 224.9,290.6 C225.85,291.07 226.73,292.02 227.6,292.1 C228.47,292.18 229.05,291.7 230.1,291.1 C231.15,290.5 232.28,289.2 233.9,288.5 C235.52,287.8 237.07,287.28 239.8,286.9 C242.53,286.52 246.57,286.42 250.3,286.2 C254.03,285.98 258.37,285.78 262.2,285.6 C266.03,285.42 271.45,285.18 273.3,285.1" stroke="#222" stroke-width="1.0" fill="none" stroke-linejoin="round"/>
<path d="M292.2,287.4 C293.32,287.4 296.9,287.33 298.9,287.4 C300.9,287.47 302.45,287.37 304.2,287.8 C305.95,288.23 307.55,289.08 309.4,290 C311.25,290.92 313.43,292.45 315.3,293.3 C317.17,294.15 319.1,295.05 320.6,295.1 C322.1,295.15 323.07,294.27 324.3,293.6 C325.53,292.93 326.88,292.08 328,291.1 C329.12,290.12 330.13,288.08 331,287.7 C331.87,287.32 332.08,289.23 333.2,288.8 C334.32,288.37 336.2,285.47 337.7,285.1 C339.2,284.73 340.72,285.85 342.2,286.6 C343.68,287.35 344.97,288.68 346.6,289.6 C348.23,290.52 350.43,291.53 352,292.1 C353.57,292.67 354.47,292.72 356,293 C357.53,293.28 359.72,293.42 361.2,293.8 C362.68,294.18 363.67,295.33 364.9,295.3 C366.13,295.27 366.98,294.38 368.6,293.6 C370.22,292.82 372.23,291.4 374.6,290.6 C376.97,289.8 379.7,289.27 382.8,288.8 C385.9,288.33 388.72,287.98 393.2,287.8 C397.68,287.62 406.95,287.72 409.7,287.7" stroke="#222" stroke-width="1.0" fill="none" stroke-linejoin="round"/>
<defs><clipPath id="cj"><rect x="91.5" y="337.3" width="117.7" height="64.4"/></clipPath><clipPath id="ck"><rect x="292" y="337" width="117.5" height="64.7"/></clipPath></defs>
<path d="M148.5,337.3V401.7" stroke="#bbb" stroke-width="0.9" stroke-dasharray="5.5,1.6"/>
<rect x="91.5" y="337.3" width="117.7" height="64.4" fill="none" stroke="#383838" stroke-width="1.1"/>
<path d="M91.5,401.7v1.5M111.12,401.7v1.5M130.73,401.7v1.5M150.35,401.7v1.5M169.97,401.7v1.5M189.58,401.7v1.5M209.2,401.7v1.5M101.31,401.7v1.1M120.92,401.7v1.1M140.54,401.7v1.1M160.16,401.7v1.1M179.77,401.7v1.1M199.39,401.7v1.1" stroke="#383838" stroke-width="0.8" fill="none"/>
<text class="p" x="92.2" y="408.8" font-size="5.0" text-anchor="middle" fill="#111">-0.6</text>
<text class="p" x="111.82" y="408.8" font-size="5.0" text-anchor="middle" fill="#111">-0.5</text>
<text class="p" x="131.43" y="408.8" font-size="5.0" text-anchor="middle" fill="#111">-0.4</text>
<text class="p" x="151.05" y="408.8" font-size="5.0" text-anchor="middle" fill="#111">-0.3</text>
<text class="p" x="170.67" y="408.8" font-size="5.0" text-anchor="middle" fill="#111">-0.2</text>
<text class="p" x="190.28" y="408.8" font-size="5.0" text-anchor="middle" fill="#111">-0.1</text>
<text class="p" x="209.9" y="408.8" font-size="5.0" text-anchor="middle" fill="#111">0.0</text>
<path d="M91.5,401.06h-1.5M91.5,389.03h-1.5M91.5,377h-1.5M91.5,364.97h-1.5M91.5,352.94h-1.5M91.5,340.91h-1.5M91.5,395.05h-1.1M91.5,383.01h-1.1M91.5,370.99h-1.1M91.5,358.95h-1.1M91.5,346.93h-1.1" stroke="#383838" stroke-width="0.8" fill="none"/>
<text class="p" x="88.3" y="402.86" font-size="5.0" text-anchor="end" fill="#111">-6</text>
<text class="p" x="88.3" y="390.83" font-size="5.0" text-anchor="end" fill="#111">-3</text>
<text class="p" x="88.3" y="378.8" font-size="5.0" text-anchor="end" fill="#111">0</text>
<text class="p" x="88.3" y="366.77" font-size="5.0" text-anchor="end" fill="#111">3</text>
<text class="p" x="88.3" y="354.74" font-size="5.0" text-anchor="end" fill="#111">6</text>
<text class="p" x="88.3" y="342.71" font-size="5.0" text-anchor="end" fill="#111">9</text>
<text class="p" x="148" y="415.6" font-size="5.6" text-anchor="middle" fill="#111">Potential vs NHE (V)</text>
<text class="p" x="0" y="0" font-size="5.25" text-anchor="middle" fill="#111" transform="translate(80.2,368.6) rotate(-90)">Current (μA)</text>
<text x="99" y="349.7" font-size="11" font-weight="bold" fill="#000" stroke="#000" stroke-width="0.3">j</text>
<path d="M91.5,368.2 C91.92,367.93 92.8,367.12 94,366.6 C95.2,366.08 96.48,365.7 98.7,365.1 C100.92,364.5 103.93,363.6 107.3,363 C110.67,362.4 115.65,361.82 118.9,361.5 C122.15,361.18 124.88,361.23 126.8,361.1 C128.72,360.97 128.98,360.85 130.4,360.7 C131.82,360.55 133.87,360.43 135.3,360.2 C136.73,359.97 137.88,359.65 139,359.3 C140.12,358.95 141,358.55 142,358.1 C143,357.65 144.02,357.17 145,356.6 C145.98,356.03 146.98,355.28 147.9,354.7 C148.82,354.12 149.52,353.53 150.5,353.1 C151.48,352.67 152.63,352.37 153.8,352.1 C154.97,351.83 155.62,351.68 157.5,351.5 C159.38,351.32 162.58,351.15 165.1,351 C167.62,350.85 170.08,350.8 172.6,350.6 C175.12,350.4 177.68,350.05 180.2,349.8 C182.72,349.55 185.2,349.47 187.7,349.1 C190.2,348.73 193.32,348.13 195.2,347.6 C197.08,347.07 197.98,346.42 199,345.9 C200.02,345.38 200.55,345.03 201.3,344.5 C202.05,343.97 202.87,343.32 203.5,342.7 C204.13,342.08 204.55,341.42 205.1,340.8 C205.65,340.18 206.27,339.57 206.8,339 C207.33,338.43 208.05,337.67 208.3,337.4" stroke="#222" stroke-width="1.0" fill="none" stroke-linejoin="round" clip-path="url(#cj)"/>
<path d="M91.5,401.7 C91.92,401.4 93.05,400.5 94,399.9 C94.95,399.3 95.47,398.93 97.2,398.1 C98.93,397.27 102,395.7 104.4,394.9 C106.8,394.1 109.18,393.67 111.6,393.3 C114.02,392.93 116.48,392.72 118.9,392.7 C121.32,392.68 123.7,392.97 126.1,393.2 C128.5,393.43 131.13,393.85 133.3,394.1 C135.47,394.35 137.42,394.67 139.1,394.7 C140.78,394.73 141.97,394.68 143.4,394.3 C144.83,393.92 146.52,393.08 147.7,392.4 C148.88,391.72 149.37,391.23 150.5,390.2 C151.63,389.17 153.08,387.4 154.5,386.2 C155.92,385 157.23,383.92 159,383 C160.77,382.08 162.83,381.33 165.1,380.7 C167.37,380.07 170.08,379.62 172.6,379.2 C175.12,378.78 177.68,378.57 180.2,378.2 C182.72,377.83 185.73,377.37 187.7,377 C189.67,376.63 190.75,376.37 192,376 C193.25,375.63 193.9,375.4 195.2,374.8 C196.5,374.2 198.42,373.42 199.8,372.4 C201.18,371.38 202.37,370.08 203.5,368.7 C204.63,367.32 205.65,365.65 206.6,364.1 C207.55,362.55 208.77,360.18 209.2,359.4" stroke="#222" stroke-width="1.0" fill="none" stroke-linejoin="round" clip-path="url(#cj)"/>
<path d="M91.5,369.3 C95.08,369.3 109.08,369.28 113,369.3 C116.92,369.32 114.08,369.23 115,369.4 C115.92,369.57 117.37,369.88 118.5,370.3 C119.63,370.72 120.42,370.8 121.8,371.9 C123.18,373 125.12,374.93 126.8,376.9 C128.48,378.87 130.22,381.58 131.9,383.7 C133.58,385.82 135.63,388.28 136.9,389.6 C138.17,390.92 138.68,391.15 139.5,391.6 C140.32,392.05 141.08,392.27 141.8,392.3 C142.52,392.33 143.2,392.12 143.8,391.8 C144.4,391.48 144.58,391.75 145.4,390.4 C146.22,389.05 147.58,385.95 148.7,383.7 C149.82,381.45 150.97,379.02 152.1,376.9 C153.23,374.78 154.38,372.25 155.5,371 C156.62,369.75 157.88,369.68 158.8,369.4 C159.72,369.12 152.6,369.32 161,369.3 C169.4,369.28 201.17,369.3 209.2,369.3" stroke="#222" stroke-width="1.0" fill="none" stroke-linejoin="round" stroke-dasharray="6.3,2.5"/>
<path d="M139.5,369.3 C139.83,369.12 140.8,368.75 141.5,368.2 C142.2,367.65 142.63,367.35 143.7,366 C144.77,364.65 146.77,361.45 147.9,360.1 C149.03,358.75 149.73,358.4 150.5,357.9 C151.27,357.4 151.82,357.23 152.5,357.1 C153.18,356.97 153.93,356.92 154.6,357.1 C155.27,357.28 155.8,357.7 156.5,358.2 C157.2,358.7 157.57,359.08 158.8,360.1 C160.03,361.12 162.22,362.95 163.9,364.3 C165.58,365.65 167.65,367.37 168.9,368.2 C170.15,369.03 170.72,369.12 171.4,369.3 C172.08,369.48 172.73,369.3 173,369.3" stroke="#222" stroke-width="1.0" fill="none" stroke-linejoin="round" stroke-dasharray="6.3,2.5"/>
<path d="M320.5,337V401.7" stroke="#bbb" stroke-width="0.9" stroke-dasharray="5.5,1.6"/>
<path d="M358.7,337V401.7" stroke="#bbb" stroke-width="0.9" stroke-dasharray="5.5,1.6"/>
<rect x="292" y="337" width="117.5" height="64.7" fill="none" stroke="#383838" stroke-width="1.1"/>
<path d="M292,401.7v1.5M306.69,401.7v1.5M321.38,401.7v1.5M336.06,401.7v1.5M350.75,401.7v1.5M365.44,401.7v1.5M380.12,401.7v1.5M394.81,401.7v1.5M409.5,401.7v1.5M299.34,401.7v1.1M314.03,401.7v1.1M328.72,401.7v1.1M343.41,401.7v1.1M358.09,401.7v1.1M372.78,401.7v1.1M387.47,401.7v1.1M402.16,401.7v1.1" stroke="#383838" stroke-width="0.8" fill="none"/>
<text class="p" x="292.7" y="408.8" font-size="5.0" text-anchor="middle" fill="#111">-0.5</text>
<text class="p" x="307.39" y="408.8" font-size="5.0" text-anchor="middle" fill="#111">-0.4</text>
<text class="p" x="322.07" y="408.8" font-size="5.0" text-anchor="middle" fill="#111">-0.3</text>
<text class="p" x="336.76" y="408.8" font-size="5.0" text-anchor="middle" fill="#111">-0.2</text>
<text class="p" x="351.45" y="408.8" font-size="5.0" text-anchor="middle" fill="#111">-0.1</text>
<text class="p" x="366.14" y="408.8" font-size="5.0" text-anchor="middle" fill="#111">0.0</text>
<text class="p" x="380.12" y="408.8" font-size="5.0" text-anchor="middle" fill="#111">0.1</text>
<text class="p" x="394.81" y="408.8" font-size="5.0" text-anchor="middle" fill="#111">0.2</text>
<text class="p" x="409.5" y="408.8" font-size="5.0" text-anchor="middle" fill="#111">0.3</text>
<path d="M292,396h-1.5M292,381.25h-1.5M292,366.5h-1.5M292,351.75h-1.5M292,337h-1.5M292,388.62h-1.1M292,373.88h-1.1M292,359.12h-1.1M292,344.38h-1.1" stroke="#383838" stroke-width="0.8" fill="none"/>
<text class="p" x="288.8" y="397.8" font-size="5.0" text-anchor="end" fill="#111">-5</text>
<text class="p" x="288.8" y="383.05" font-size="5.0" text-anchor="end" fill="#111">0</text>
<text class="p" x="288.8" y="368.3" font-size="5.0" text-anchor="end" fill="#111">5</text>
<text class="p" x="288.8" y="353.55" font-size="5.0" text-anchor="end" fill="#111">10</text>
<text class="p" x="288.8" y="338.8" font-size="5.0" text-anchor="end" fill="#111">15</text>
<text class="p" x="348.3" y="415.6" font-size="5.6" text-anchor="middle" fill="#111">Potential vs NHE (V)</text>
<text class="p" x="0" y="0" font-size="5.25" text-anchor="middle" fill="#111" transform="translate(281.2,369) rotate(-90)">Current (μA)</text>
<text x="298" y="350.5" font-size="11.2" font-weight="bold" fill="#000" stroke="#000" stroke-width="0.3">k</text>
<path d="M292,388.4 C292.28,387.52 293.1,384.62 293.7,383.1 C294.3,381.58 294.8,380.57 295.6,379.3 C296.4,378.03 297.38,376.85 298.5,375.5 C299.62,374.15 300.87,372.55 302.3,371.2 C303.73,369.85 305.62,368.78 307.1,367.4 C308.58,366.02 309.8,364.17 311.2,362.9 C312.6,361.63 313.9,360.82 315.5,359.8 C317.1,358.78 319.13,357.67 320.8,356.8 C322.47,355.93 323.88,355.3 325.5,354.6 C327.12,353.9 328.75,353.2 330.5,352.6 C332.25,352 334.08,351.5 336,351 C337.92,350.5 340.33,350.02 342,349.6 C343.67,349.18 344.65,348.87 346,348.5 C347.35,348.13 348.68,347.82 350.1,347.4 C351.52,346.98 353.1,346.43 354.5,346 C355.9,345.57 357.17,345.25 358.5,344.8 C359.83,344.35 361.1,343.75 362.5,343.3 C363.9,342.85 365.23,342.42 366.9,342.1 C368.57,341.78 370.53,341.6 372.5,341.4 C374.47,341.2 376.7,341.08 378.7,340.9 C380.7,340.72 382.53,340.5 384.5,340.3 C386.47,340.1 388.75,339.9 390.5,339.7 C392.25,339.5 393.6,339.32 395,339.1 C396.4,338.88 397.82,338.63 398.9,338.4 C399.98,338.17 400.65,337.98 401.5,337.7 C402.35,337.42 403.58,336.87 404,336.7" stroke="#222" stroke-width="1.0" fill="none" stroke-linejoin="round" clip-path="url(#ck)"/>
<path d="M292,401.8 C292.42,401.65 293.57,401.22 294.5,400.9 C295.43,400.58 296.35,400.23 297.6,399.9 C298.85,399.57 300.42,399.22 302,398.9 C303.58,398.58 305.43,398.25 307.1,398 C308.77,397.75 310.18,397.58 312,397.4 C313.82,397.22 315.08,397.27 318,396.9 C320.92,396.53 326.5,395.6 329.5,395.2 C332.5,394.8 333.73,394.72 336,394.5 C338.27,394.28 340.78,394.03 343.1,393.9 C345.42,393.77 348.17,394.02 349.9,393.7 C351.63,393.38 352.18,392.68 353.5,392 C354.82,391.32 356.47,390.37 357.8,389.6 C359.13,388.83 360.18,388.08 361.5,387.4 C362.82,386.72 364.2,386.03 365.7,385.5 C367.2,384.97 368.62,384.57 370.5,384.2 C372.38,383.83 374.83,383.55 377,383.3 C379.17,383.05 381.25,382.88 383.5,382.7 C385.75,382.52 387.75,382.43 390.5,382.2 C393.25,381.97 396.83,381.6 400,381.3 C403.17,381 407.92,380.55 409.5,380.4" stroke="#222" stroke-width="1.0" fill="none" stroke-linejoin="round" clip-path="url(#ck)"/>
<path d="M292,362.3 C295.13,362.3 307.3,362.15 310.8,362.3 C314.3,362.45 312.13,362.87 313,363.2 C313.87,363.53 314.97,364.05 316,364.3 C317.03,364.55 318.12,364.75 319.2,364.7 C320.28,364.65 321.37,364.38 322.5,364 C323.63,363.62 324.95,362.83 326,362.4 C327.05,361.97 327.97,361.47 328.8,361.4 C329.63,361.33 330.3,361.53 331,362 C331.7,362.47 332.17,363.23 333,364.2 C333.83,365.17 335,366.33 336,367.8 C337,369.27 338,371.18 339,373 C340,374.82 341,376.62 342,378.7 C343,380.78 344.08,383.37 345,385.5 C345.92,387.63 346.78,390.08 347.5,391.5 C348.22,392.92 348.68,394 349.3,394 C349.92,394 350.42,393.67 351.2,391.5 C351.98,389.33 353.2,384 354,381 C354.8,378 355.38,375.7 356,373.5 C356.62,371.3 357.12,369.3 357.7,367.8 C358.28,366.3 358.87,365.37 359.5,364.5 C360.13,363.63 360.92,362.97 361.5,362.6 C362.08,362.23 355,362.35 363,362.3 C371,362.25 401.75,362.3 409.5,362.3" stroke="#222" stroke-width="1.0" fill="none" stroke-linejoin="round" stroke-dasharray="6.3,2.5"/>
<path d="M310.8,362.3 C311.33,362.18 312.8,361.82 314,361.6 C315.2,361.38 316.47,361.17 318,361 C319.53,360.83 321.7,360.62 323.2,360.6 C324.7,360.58 325.87,360.73 327,360.9 C328.13,361.07 328.95,361.37 330,361.6 C331.05,361.83 329.95,362.18 333.3,362.3 C336.65,362.42 346.82,362.6 350.1,362.3 C353.38,362 351.88,361.4 353,360.5 C354.12,359.6 355.72,357.92 356.8,356.9 C357.88,355.88 358.65,355.1 359.5,354.4 C360.35,353.7 361.07,353.15 361.9,352.7 C362.73,352.25 363.52,351.93 364.5,351.7 C365.48,351.47 366.8,351.25 367.8,351.3 C368.8,351.35 369.52,351.63 370.5,352 C371.48,352.37 372.62,352.92 373.7,353.5 C374.78,354.08 375.88,354.8 377,355.5 C378.12,356.2 379.23,356.95 380.4,357.7 C381.57,358.45 382.88,359.35 384,360 C385.12,360.65 386.18,361.22 387.1,361.6 C388.02,361.98 388.85,362.18 389.5,362.3 C390.15,362.42 390.75,362.3 391,362.3" stroke="#222" stroke-width="1.0" fill="none" stroke-linejoin="round" stroke-dasharray="6.3,2.5"/>
</svg>
</body></html>
